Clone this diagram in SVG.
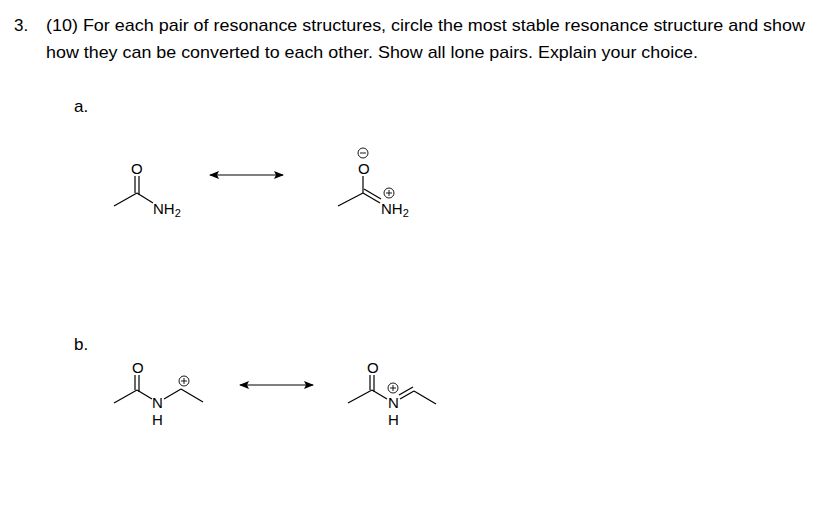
<svg xmlns="http://www.w3.org/2000/svg" width="827" height="508" viewBox="0 0 827 508">
<defs>
<style>
text{font-family:"Liberation Sans",Arial,sans-serif;fill:#000}
.q{font-size:17px}
.a{font-size:15px}
.b{stroke:#000;stroke-width:1.2;fill:none}
.c{stroke:#000;stroke-width:0.9;fill:none}
.s{font-size:11px}
</style>
<marker id="ah" markerWidth="10" markerHeight="8" refX="9" refY="4" orient="auto-start-reverse" markerUnits="userSpaceOnUse"><path d="M0,0 L10,4 L0,8 L2,4 Z" fill="#000"/></marker>
</defs>
<rect width="827" height="508" fill="#fff"/>
<text class="q" x="14" y="31">3.</text>
<text class="q" x="46" y="31" textLength="759" lengthAdjust="spacingAndGlyphs">(10) For each pair of resonance structures, circle the most stable resonance structure and show</text>
<text class="q" x="46" y="58" textLength="652" lengthAdjust="spacingAndGlyphs">how they can be converted to each other. Show all lone pairs. Explain your choice.</text>
<text class="q" x="74" y="112">a.</text>
<text class="q" x="74" y="350">b.</text>
<g id="connectors">
<line class="b" x1="210" y1="175" x2="283" y2="175" marker-start="url(#ah)" marker-end="url(#ah)"/>
<line class="b" x1="240" y1="385" x2="313" y2="385" marker-start="url(#ah)" marker-end="url(#ah)"/>
</g>
<g id="a-left">
<text class="a" x="131" y="174">O</text>
<line class="b" x1="135" y1="176" x2="135" y2="193"/><line class="b" x1="139" y1="176" x2="139" y2="195"/>
<line class="b" x1="114" y1="206" x2="137" y2="193"/><line class="b" x1="137" y1="193" x2="153" y2="203"/>
<text class="a" x="153" y="214">NH<tspan class="s" dy="3">2</tspan></text>
</g>
<g id="a-right">
<circle class="c" cx="363" cy="153" r="5"/><line class="c" x1="360" y1="153" x2="366" y2="153"/>
<text class="a" x="358" y="174">O</text>
<line class="b" x1="363" y1="176" x2="363" y2="193"/>
<line class="b" x1="338" y1="206" x2="363" y2="193"/><line class="b" x1="363" y1="193" x2="380" y2="203"/><line class="b" x1="364" y1="189" x2="381" y2="199"/>
<circle class="c" cx="389" cy="193" r="5"/><line class="c" x1="386" y1="193" x2="392" y2="193"/><line class="c" x1="389" y1="190" x2="389" y2="196"/>
<text class="a" x="381" y="214">NH<tspan class="s" dy="3">2</tspan></text>
</g>
<g id="b-left">
<text class="a" x="132" y="373">O</text>
<line class="b" x1="135" y1="375" x2="135" y2="390"/><line class="b" x1="139" y1="375" x2="139" y2="392"/>
<line class="b" x1="114" y1="403" x2="137" y2="390"/><line class="b" x1="137" y1="390" x2="152" y2="399"/>
<text class="a" x="152" y="408">N</text><text class="a" x="152" y="425">H</text>
<line class="b" x1="164" y1="399" x2="181" y2="389"/><line class="b" x1="181" y1="389" x2="203" y2="402"/>
<circle class="c" cx="184" cy="381" r="5"/><line class="c" x1="181" y1="381" x2="187" y2="381"/><line class="c" x1="184" y1="378" x2="184" y2="384"/>
</g>
<g id="b-right">
<text class="a" x="367" y="373">O</text>
<line class="b" x1="370" y1="375" x2="370" y2="390"/><line class="b" x1="374" y1="375" x2="374" y2="392"/>
<line class="b" x1="348" y1="403" x2="372" y2="390"/><line class="b" x1="372" y1="390" x2="387" y2="399"/>
<text class="a" x="388" y="408">N</text><text class="a" x="388" y="425">H</text>
<line class="b" x1="400" y1="399" x2="414" y2="391"/><line class="b" x1="399" y1="395" x2="413" y2="387"/><line class="b" x1="414" y1="391" x2="436" y2="404"/>
<circle class="c" cx="393" cy="388" r="5"/><line class="c" x1="390" y1="388" x2="396" y2="388"/><line class="c" x1="393" y1="385" x2="393" y2="391"/>
</g>
</svg>
